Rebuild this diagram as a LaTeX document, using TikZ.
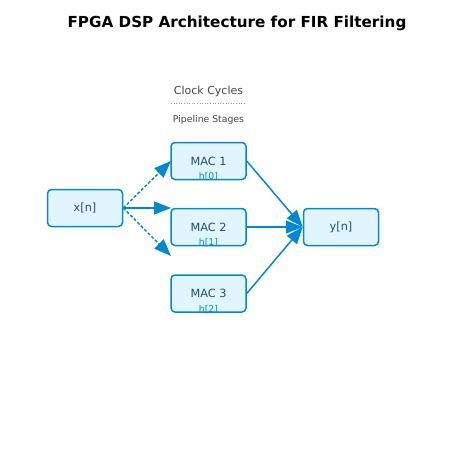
\documentclass[tikz,border=0pt]{standalone}
\usepackage{fontspec}
\setmainfont{DejaVu Sans}
\usetikzlibrary{arrows.meta}
\definecolor{edge}{HTML}{0288D1}
\definecolor{boxfill}{HTML}{E1F5FE}
\definecolor{txt}{HTML}{1F4E79}
\definecolor{gtxt}{HTML}{444444}
\tikzset{
  blk/.style={draw=edge, fill=boxfill, line width=1.5pt, rounded corners=4pt, minimum width=75pt, minimum height=37pt, inner sep=0pt, text=txt, font=\fontsize{11.3}{13}\selectfont},
  sub/.style={text=edge, font=\fontsize{9.3}{11}\selectfont, inner sep=0pt},
  conn/.style={draw=edge, line width=1.5pt, -{Triangle[length=17pt,width=13pt]}},
  dconn/.style={conn, dash pattern=on 3pt off 2pt},
}
\begin{document}
\begin{tikzpicture}[x=1pt,y=-1pt]
\useasboundingbox (0,0) rectangle (474,474);
\node[font=\bfseries\fontsize{15.2}{17}\selectfont] (title) at (237,23) {FPGA DSP Architecture for FIR Filtering};
\node[text=gtxt, font=\fontsize{11}{13}\selectfont] (clk) at (208.5,91.5) {Clock Cycles};
\coordinate (d1) at (171,103);
\coordinate (d2) at (245,103);
\draw[gray!80, line width=1pt, dash pattern=on 1pt off 1.6pt] (d1) -- (d2);
\node[text=gtxt, font=\fontsize{9.3}{11}\selectfont] (pipe) at (208.5,120) {Pipeline Stages};

\node[blk] (x) at (85,208) {\raisebox{-1.5pt}{x[n]}};
\node[blk] (m1) at (208.5,161) {\raisebox{-1.5pt}{MAC 1}};
\node[blk] (m2) at (208.5,227) {\raisebox{-1.5pt}{MAC 2}};
\node[blk] (m3) at (208.5,293.5) {\raisebox{-1.5pt}{MAC 3}};
\node[blk] (y) at (341,227) {\raisebox{-1.5pt}{y[n]}};
\node[sub] (h0) at (208.5,177) {h[0]};
\node[sub] (h1) at (208.5,243) {h[1]};
\node[sub] (h2) at (208.5,309.5) {h[2]};

\coordinate (t1) at (171,161);
\coordinate (t2) at (171,208);
\coordinate (t3) at (171,256);
\draw[dconn] (x.east) -- (t1);
\draw[conn] (x.east) -- (t2);
\draw[dconn] (x.east) -- (t3);
\draw[conn] (m1.east) -- (y.west);
\draw[conn] (m2.east) -- (y.west);
\draw[conn] (m3.east) -- (y.west);
\end{tikzpicture}
\end{document}
